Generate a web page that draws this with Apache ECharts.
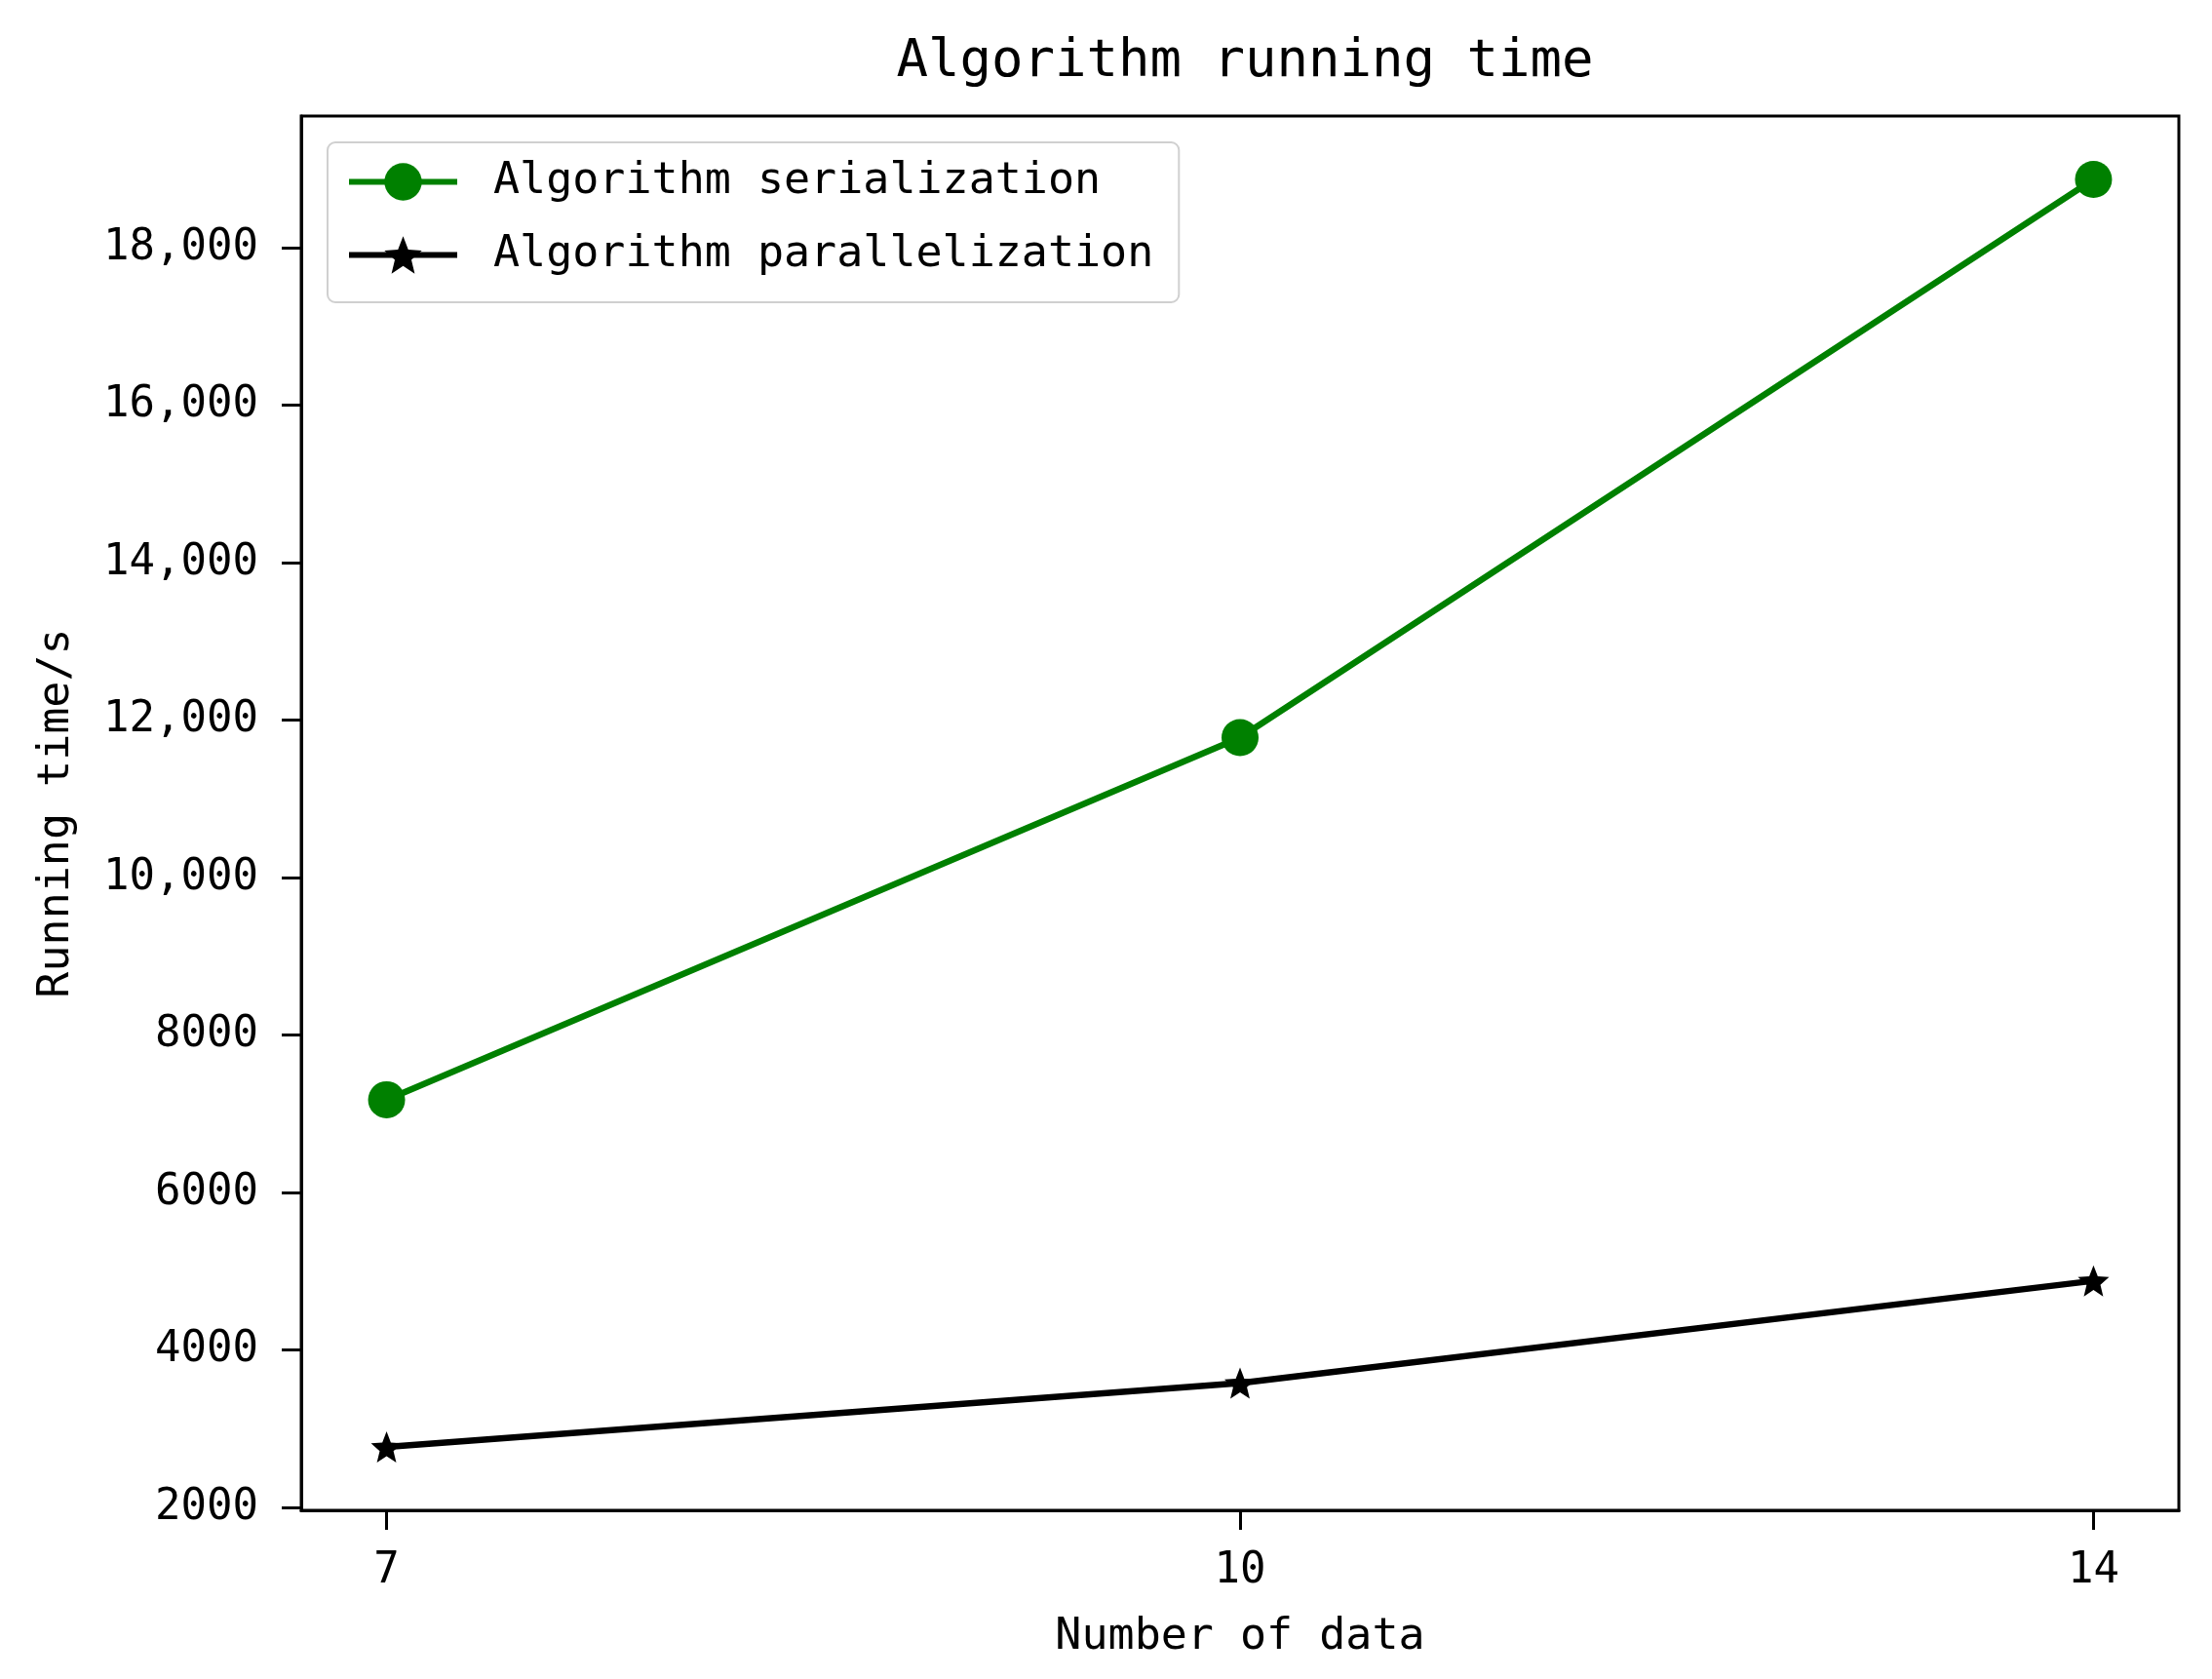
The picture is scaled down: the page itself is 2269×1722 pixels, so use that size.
<!DOCTYPE html>
<html>
<head>
<meta charset="utf-8">
<title>Algorithm running time</title>
<script src="https://cdn.jsdelivr.net/npm/echarts@6/dist/echarts.min.js"></script>
<style>
  html, body { margin: 0; padding: 0; background: #fff; }
  #chart { width: 2269px; height: 1722px; }
</style>
</head>
<body>
<div id="chart"></div>
<script>
// x categories (number of data), drawn at index 0,1,2
var xLabels = ['7', '10', '14']
var xPositions = [0, 1, 2]
// running time in seconds
var serialTimes = [7180, 11780, 18870]
var parallelTimes = [2770, 3580, 4880]
var yTicks = [2000, 4000, 6000, 8000, 10000, 12000, 14000, 16000, 18000]
var yTickLabels = ['2000', '4000', '6000', '8000', '10,000', '12,000', '14,000', '16,000', '18,000']

var FONT = 'DejaVu Sans Mono'
var STAR = 'path://M0,-10 L2.6,-3.5 L9.5,-3.1 L4.2,1.4 L5.9,8.1 L0,4.4 L-5.9,8.1 L-4.2,1.4 L-9.5,-3.1 L-2.6,-3.5 Z'

function pairs(vals) {
  return xPositions.map(function (x, i) { return [x, vals[i]] })
}

var chart = echarts.init(document.getElementById('chart'))
chart.setOption({
  backgroundColor: '#fff',
  animation: false,
  title: {
    text: 'Algorithm running time',
    left: 1272,
    textAlign: 'center',
    top: 32,
    textStyle: { fontFamily: FONT, fontSize: 54, fontWeight: 'normal', color: '#000' }
  },
  legend: {
    left: 336,
    top: 146,
    orient: 'vertical',
    padding: [18, 26, 26, 19],
    itemWidth: 111,
    itemHeight: 48,
    itemGap: 30,
    backgroundColor: 'rgba(255,255,255,0.8)',
    borderColor: '#d0d0d0',
    borderWidth: 2,
    borderRadius: 8,
    lineStyle: { width: 6 },
    textStyle: { fontFamily: FONT, fontSize: 45, color: '#000', padding: [0, 0, 0, 32] }
  },
  grid: {
    left: 309,
    right: 34,
    top: 119,
    bottom: 173,
    show: true,
    borderColor: '#000',
    borderWidth: 3,
    containLabel: false
  },
  xAxis: {
    type: 'value',
    min: -0.1,
    max: 2.1,
    name: 'Number of data',
    nameLocation: 'middle',
    nameGap: 108,
    nameTextStyle: { fontFamily: FONT, fontSize: 45, color: '#000' },
    axisLine: { onZero: false, lineStyle: { color: '#000', width: 3 } },
    axisTick: { show: true, length: 20, lineStyle: { color: '#000', width: 3 }, customValues: xPositions },
    axisLabel: {
      fontFamily: FONT, fontSize: 44, color: '#000', margin: 41,
      customValues: xPositions,
      formatter: function (v) { return xLabels[Math.round(v)] }
    },
    splitLine: { show: false }
  },
  yAxis: {
    type: 'value',
    min: 1965,
    max: 19675,
    name: 'Running time/s',
    nameLocation: 'middle',
    nameGap: 228,
    nameTextStyle: { fontFamily: FONT, fontSize: 45, color: '#000' },
    axisLine: { show: true, onZero: false, lineStyle: { color: '#000', width: 3 } },
    axisTick: { show: true, length: 20, lineStyle: { color: '#000', width: 3 }, customValues: yTicks },
    axisLabel: {
      fontFamily: FONT, fontSize: 44, color: '#000', margin: 44,
      customValues: yTicks,
      formatter: function (v) { return yTickLabels[yTicks.indexOf(v)] }
    },
    splitLine: { show: false }
  },
  series: [
    {
      name: 'Algorithm serialization',
      type: 'line',
      data: pairs(serialTimes),
      symbol: 'circle',
      symbolSize: 38,
      color: '#008000',
      lineStyle: { color: '#008000', width: 6.5 },
      itemStyle: { color: '#008000' }
    },
    {
      name: 'Algorithm parallelization',
      type: 'line',
      data: pairs(parallelTimes),
      symbol: STAR,
      symbolSize: 32,
      color: '#000',
      lineStyle: { color: '#000', width: 6.5 },
      itemStyle: { color: '#000' }
    }
  ]
})
</script>
</body>
</html>
